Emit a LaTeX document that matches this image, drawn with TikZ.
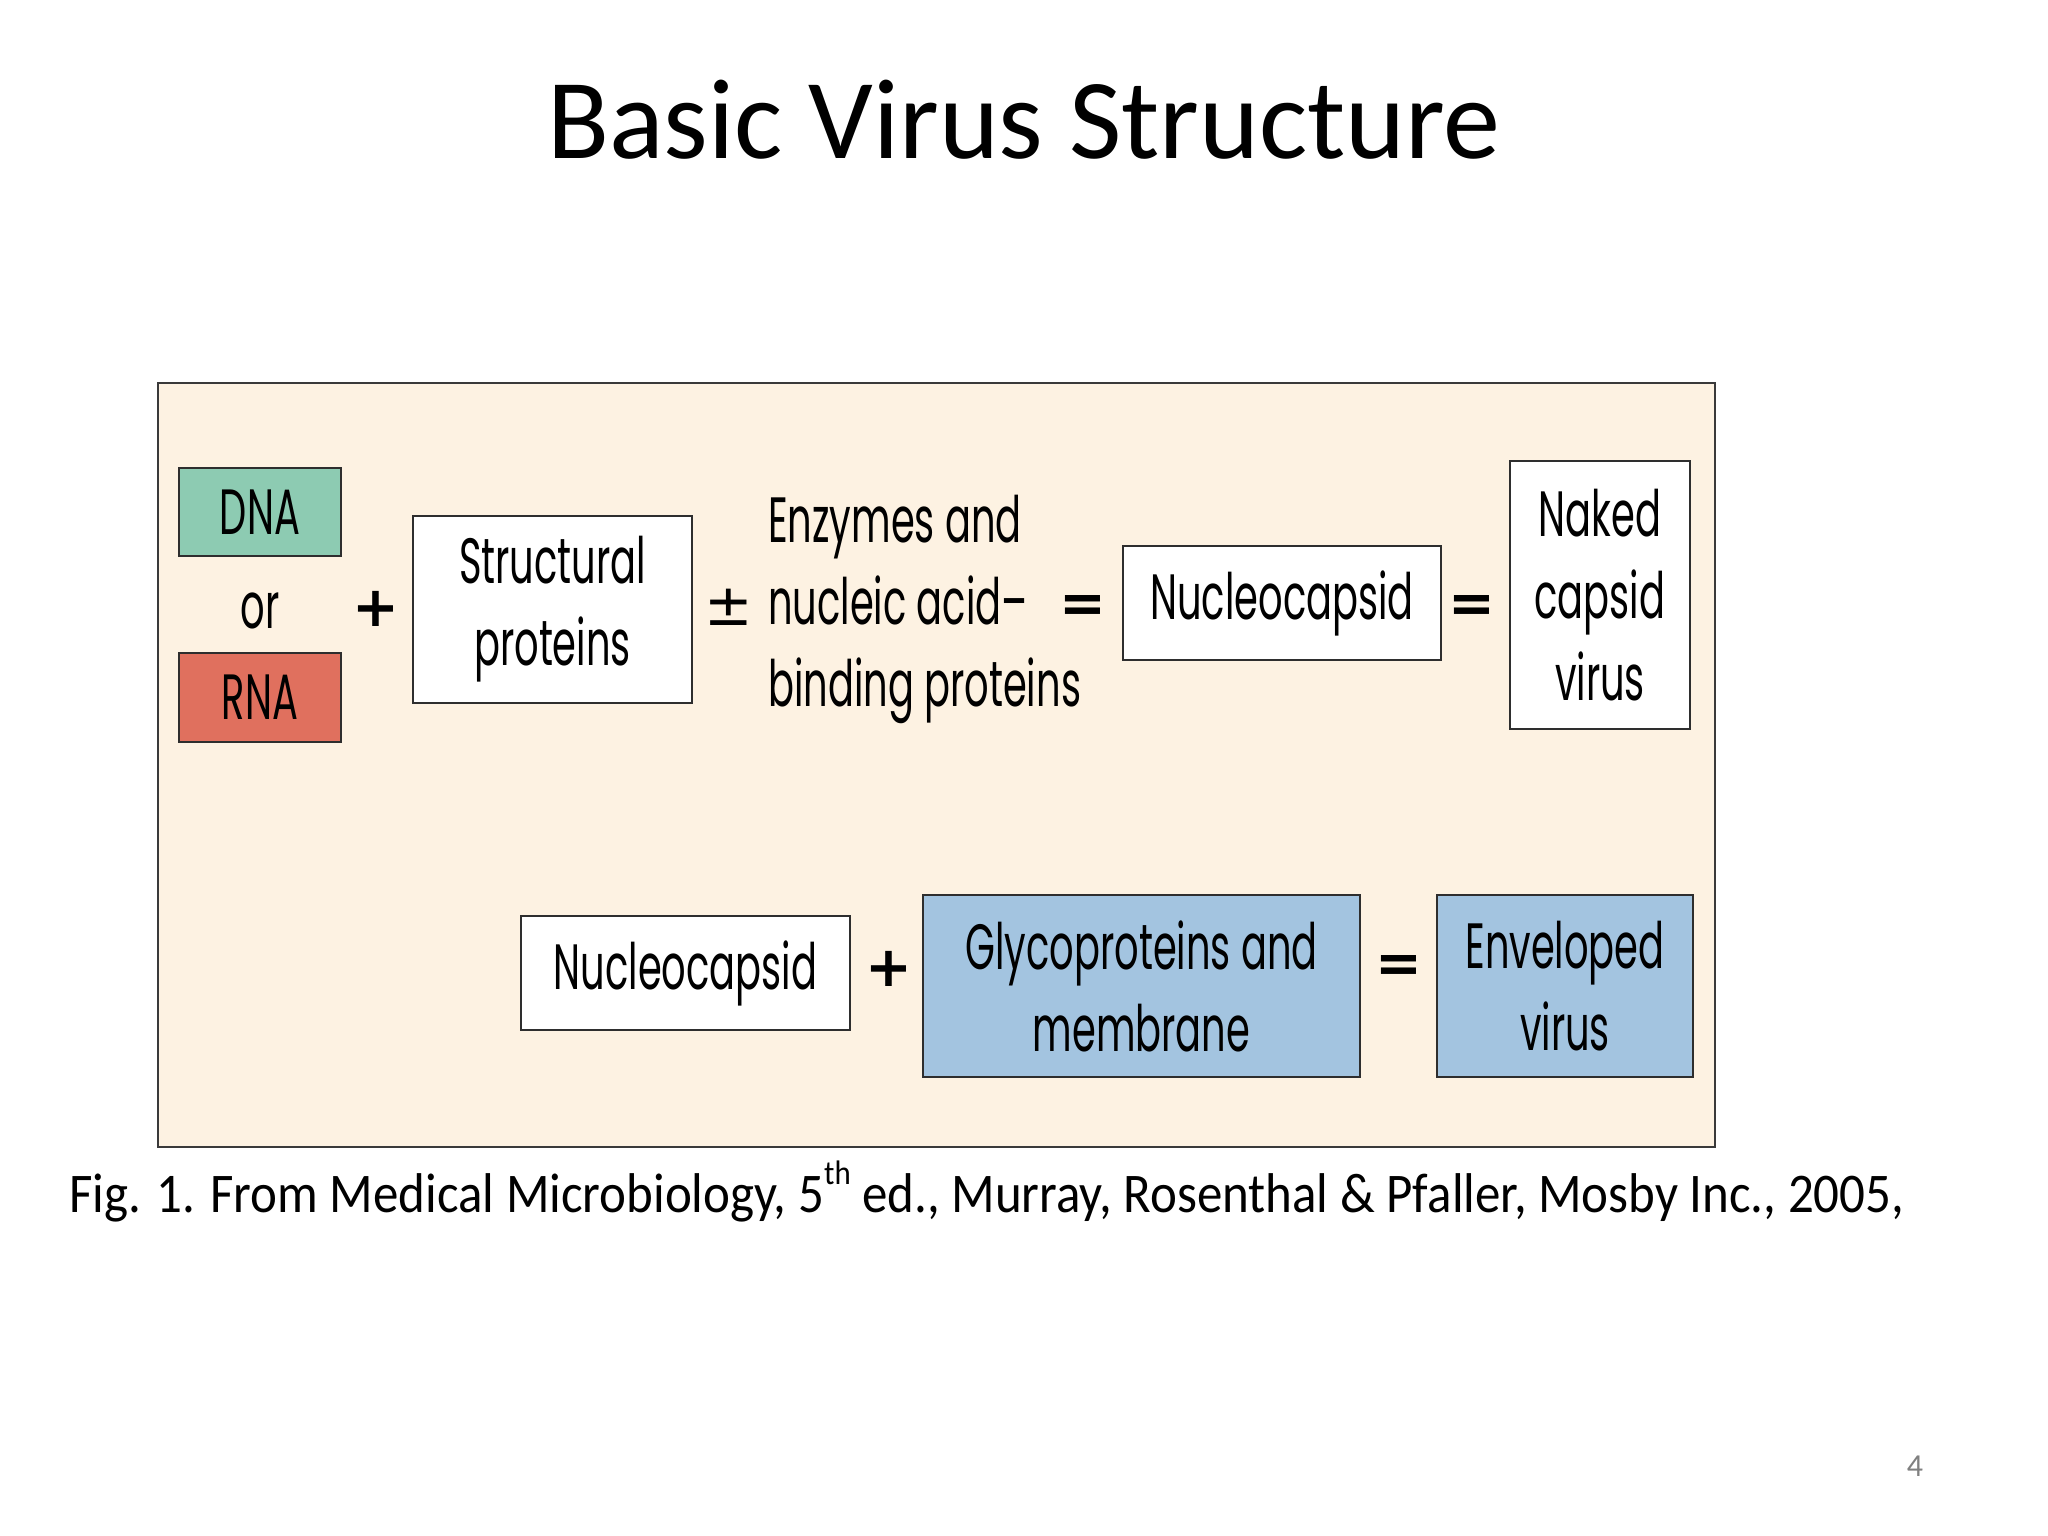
\documentclass[tikz,border=0pt]{standalone}
\usepackage{fontspec}
\setmainfont{Carlito}
\newfontfamily\fut[FakeStretch=0.6]{Poppins}
\newfontfamily\opfont{DejaVu Sans}
\newfontfamily\capfont[FakeStretch=0.91]{Carlito}
\definecolor{panelfill}{HTML}{FDF2E2}
\definecolor{panelline}{HTML}{3A3A3A}
\definecolor{boxline}{HTML}{2E2E2E}
\definecolor{dnafill}{HTML}{8DCBB2}
\definecolor{rnafill}{HTML}{E0705E}
\definecolor{bluefill}{HTML}{A3C4E0}
\definecolor{pagegray}{HTML}{808080}
\begin{document}
\begin{tikzpicture}[x=1pt,y=-1pt,
  dtext/.style={font=\fut\fontsize{64}{82}\selectfont, text=black, align=center},
  box/.style={dtext, draw=boxline, line width=2.5pt, inner sep=0pt},
  op/.style={font=\opfont\bfseries\fontsize{56}{60}\selectfont, text=black, inner sep=0pt},
  pmop/.style={font=\opfont\fontsize{58}{60}\selectfont, text=black, inner sep=0pt}]
\useasboundingbox (0,0) rectangle (2048,1536);
\fill[white] (0,0) rectangle (2048,1536);
% title
\node[font=\fontsize{114}{126}\selectfont, anchor=base] (title) at (1024,159) {Basic Virus Structure};
% panel
\draw[fill=panelfill, draw=panelline, line width=2.5pt] (158,383) rectangle (1715,1147);
% top row
\node[box, fill=dnafill, minimum width=162pt, minimum height=88pt] (dna) at (260,512) {DNA};
\node[dtext] (or) at (260,611) {or};
\node[box, fill=rnafill, minimum width=162pt, minimum height=89pt] (rna) at (260,697.5) {RNA};
\node[op] (plus1) at (376,609) {+};
\node[box, fill=white, minimum width=279pt, minimum height=187pt] (struct) at (552.5,609.5) {Structural\\proteins};
\node[pmop] (pm) at (729,607) {±};
\node[dtext, anchor=west, align=left, inner sep=0pt] (enz) at (768,609) {Enzymes and\\nucleic acid–\\binding proteins};
\node[op] (eq1) at (1083,609) {=};
\node[box, fill=white, minimum width=318pt, minimum height=114pt] (nuc1) at (1282,603) {Nucleocapsid};
\node[op] (eq2) at (1472,609) {=};
\node[box, fill=white, minimum width=180pt, minimum height=268pt] (naked) at (1600,595) {Naked\\capsid\\virus};
% bottom row
\node[box, fill=white, minimum width=329pt, minimum height=114pt] (nuc2) at (685.5,973) {Nucleocapsid};
\node[op] (plus2) at (889,969) {+};
\node[box, fill=bluefill, minimum width=437pt, minimum height=182pt] (glyco) at (1141.5,986) {Glycoproteins and\\membrane};
\node[op] (eq3) at (1399,969) {=};
\node[box, fill=bluefill, minimum width=256pt, minimum height=182pt] (env) at (1565,986) {Enveloped\\virus};
% caption
\node[font=\capfont\fontsize{56}{66}\selectfont, anchor=base west, inner sep=0pt] (cap) at (69,1212) {Fig. 1. From Medical Microbiology, 5\raisebox{0.5em}{\fontsize{34}{36}\selectfont th} ed., Murray, Rosenthal \& Pfaller, Mosby Inc., 2005,};
% page number
\node[font=\fontsize{32}{36}\selectfont, text=pagegray, anchor=base] (pg) at (1915,1476) {4};
\end{tikzpicture}
\end{document}
